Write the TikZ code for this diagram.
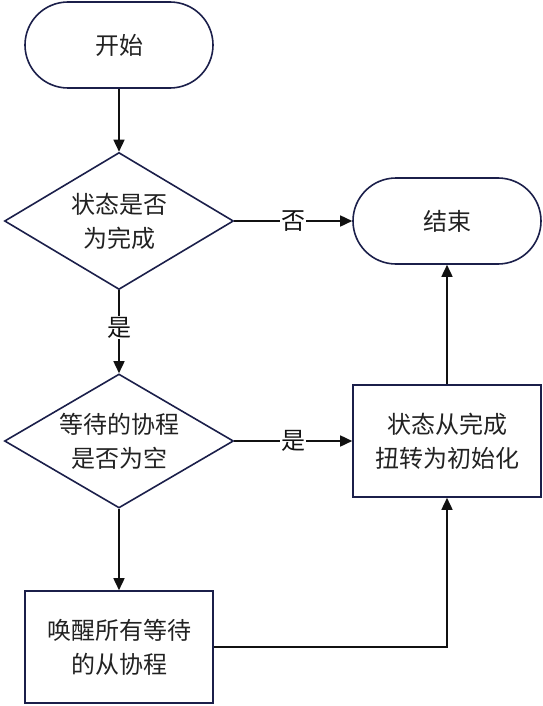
\documentclass[tikz,border=0pt]{standalone}
\usepackage{fontspec}
\setmainfont{Noto Sans CJK SC}
\usetikzlibrary{shapes.geometric,arrows.meta}
\definecolor{bord}{HTML}{1B1F4A}
\definecolor{txt}{HTML}{222222}
\definecolor{ln}{HTML}{111111}
\begin{document}
\begin{tikzpicture}[x=1pt,y=-1pt,
  every node/.style={font=\fontsize{24}{34}\selectfont, text=txt, align=center},
  term/.style={draw=bord, line width=1.6pt, rounded corners=43pt, minimum width=188pt, minimum height=86pt, inner sep=0pt},
  proc/.style={draw=bord, line width=1.6pt, minimum width=188pt, minimum height=112pt, inner sep=0pt},
  dec/.style={draw=bord, line width=1.6pt, diamond, aspect=1.67, minimum width=229pt, minimum height=137pt, inner sep=0pt},
  conn/.style={draw=ln, line width=1.6pt, -{Triangle[length=12pt,width=11pt]}},
  lab/.style={fill=white, inner sep=1pt, text=ln}]
\useasboundingbox (0,0) rectangle (542,706);
\node[term] (start) at (119,45) {开始};
\node[dec, minimum height=137pt] (d1) at (119,221) {状态是否\\为完成};
\node[term] (end) at (447,221) {结束};
\node[dec, minimum height=134pt] (d2) at (119,441) {等待的协程\\是否为空};
\node[proc] (reset) at (447,441) {状态从完成\\扭转为初始化};
\node[proc] (wake) at (119,647) {唤醒所有等待\\的从协程};
\draw[conn] (start) -- (d1);
\draw[conn] (d1) -- node[lab] {否} (end);
\draw[conn] (d1) -- node[lab, pos=0.45] {是} (d2);
\draw[conn] (d2) -- node[lab] {是} (reset);
\draw[conn] (d2) -- (wake);
\draw[conn] (wake.east) -| (reset.south);
\draw[conn] (reset) -- (end);
\end{tikzpicture}
\end{document}
